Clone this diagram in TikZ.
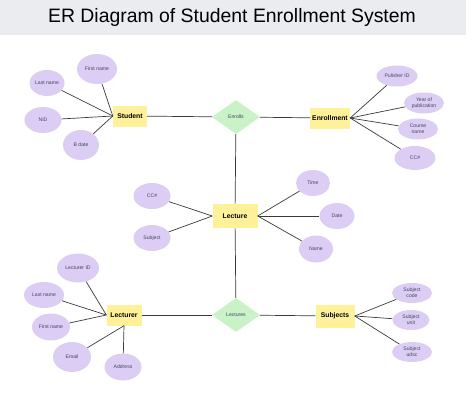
\documentclass[tikz,border=0pt]{standalone}
\usepackage{fontspec}
\setmainfont{Liberation Sans}
\usetikzlibrary{shapes.geometric}

\definecolor{titlegray}{HTML}{EBECEF}
\definecolor{attrfill}{HTML}{DCCDF5}
\definecolor{entfill}{HTML}{FFF09A}
\definecolor{relfill}{HTML}{C9F2C7}
\definecolor{linkgray}{HTML}{3A3A3A}
\definecolor{attrtext}{HTML}{45435A}

\begin{document}
\begin{tikzpicture}[x=1pt,y=-1pt,
  attr/.style={ellipse, fill=attrfill, inner sep=0pt, minimum width=39, minimum height=26,
    font=\fontsize{5.1}{5.9}\selectfont, text=attrtext, align=center},
  entity/.style={rectangle, fill=entfill, inner sep=0pt, minimum height=21,
    font=\fontsize{6.8}{8}\selectfont\bfseries},
  rel/.style={diamond, fill=relfill, inner sep=0pt, minimum width=48, minimum height=34,
    font=\fontsize{5.1}{6}\selectfont, text=attrtext},
  link/.style={draw=linkgray, line width=0.7pt}]

\useasboundingbox (0,0) rectangle (474,407);

% title
\fill[titlegray] (0,0) rectangle (466,35);
\node (title) at (232,17.5) {\fontsize{19.4}{23}\selectfont ER Diagram of Student Enrollment System};

% entities
\node[entity, minimum width=34] (student) at (130,116) {Student};
\node[entity, minimum width=40] (enrollment) at (330,118) {Enrollment};
\node[entity, minimum width=45, minimum height=24] (lecture) at (235,216) {Lecture};
\node[entity, minimum width=35] (lecturer) at (124,315) {Lecturer};
\node[entity, minimum width=39, minimum height=23] (subjects) at (335,316) {Subjects};

% relationships
\node[rel] (enrolls) at (236,117) {Enrolls};
\node[rel] (lectures) at (236,315) {Lectures};

% student attributes
\node[attr, minimum width=35] (s_last) at (47,83) {Last name};
\node[attr, minimum width=40, minimum height=30] (s_first) at (97,69) {First name};
\node[attr, minimum width=37] (s_nid) at (43,120) {NID};
\node[attr, minimum width=36, minimum height=30] (s_bdate) at (81,145) {B date};

% enrollment attributes
\node[attr, minimum width=41, minimum height=21] (e_pub) at (397,76) {Pulisher ID};
\node[attr, minimum width=40, minimum height=21] (e_year) at (424,103) {Year of\\publication};
\node[attr, minimum width=40, minimum height=21] (e_course) at (418,129) {Course\\name};
\node[attr, minimum width=41, minimum height=24] (e_cc) at (415,158) {CC\#};

% lecture attributes
\node[attr, minimum width=37] (l_cc) at (152,196) {CC\#};
\node[attr, minimum width=37] (l_subj) at (152,238) {Subject};
\node[attr, minimum width=34] (l_time) at (313,183) {Time};
\node[attr, minimum width=35] (l_date) at (337,216) {Date};
\node[attr, minimum width=34, minimum height=27] (l_name) at (316,249) {Name};

% lecturer attributes
\node[attr, minimum width=42, minimum height=29] (t_id) at (78,268) {Lecturer ID};
\node[attr, minimum width=40] (t_last) at (44,295) {Last name};
\node[attr, minimum width=38, minimum height=27] (t_first) at (51,327) {First name};
\node[attr, minimum width=38, minimum height=30] (t_email) at (72,357) {Email};
\node[attr, minimum width=37, minimum height=27] (t_addr) at (123,367) {Address};

% subjects attributes
\node[attr, minimum width=40, minimum height=20] (j_code) at (412,293) {Subject\\code};
\node[attr, minimum width=37, minimum height=20] (j_unit) at (411,320) {Subject\\unit};
\node[attr, minimum width=40, minimum height=20] (j_udsc) at (412,352) {Subject\\udsc};

% relationship links
\draw[link] (student) -- (enrolls);
\draw[link] (enrolls) -- (enrollment);
\draw[link] (enrolls) -- (lecture);
\draw[link] (lecture) -- (lectures);
\draw[link] (lecturer) -- (lectures);
\draw[link] (lectures) -- (subjects);

% attribute links
\foreach \a in {s_last,s_first,s_nid,s_bdate}
  \draw[link] (\a) -- (student.west);
\foreach \a in {e_pub,e_year,e_course,e_cc}
  \draw[link] (\a) -- (enrollment.east);
\foreach \a in {l_cc,l_subj}
  \draw[link] (\a) -- (lecture.west);
\foreach \a in {l_time,l_date,l_name}
  \draw[link] (\a) -- (lecture.east);
\foreach \a in {t_id,t_last,t_first}
  \draw[link] (\a) -- (lecturer.west);
\foreach \a in {t_email,t_addr}
  \draw[link] (\a) -- (lecturer.south);
\foreach \a in {j_code,j_unit,j_udsc}
  \draw[link] (\a) -- (subjects.east);

\end{tikzpicture}
\end{document}
